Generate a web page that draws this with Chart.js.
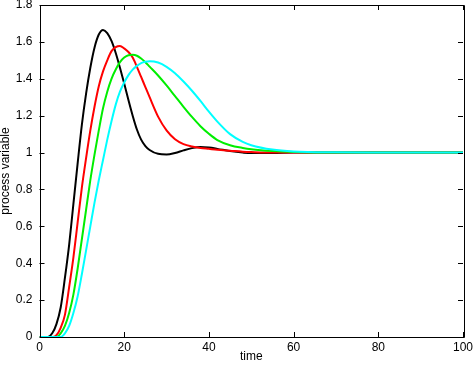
<!DOCTYPE html>
<html>
<head>
<meta charset="utf-8">
<script src="https://cdn.jsdelivr.net/npm/chart.js@4/dist/chart.umd.min.js"></script>
<style>
  html, body { margin: 0; padding: 0; background: #fff; }
  #wrap { width: 474px; height: 370px; position: relative; }
</style>
</head>
<body>
<div id="wrap"><canvas id="chartStep"></canvas></div>
<script>
// ============= DATA =============
const TIME = [0,1,2,3,4,5,6,7,8,9,10,11,12,13,14,15,16,17,18,19,20,21,22,23,24,25,26,
              28,30,32,34,36,38,40,42,45,48,50,55,60,70,80,90,100];

const BLACK = [0,0,0,0.02,0.07,0.16,0.32,0.5,0.72,0.94,1.15,1.32,1.46,1.57,1.64,1.665,1.648,1.605,1.54,1.46,1.375,1.285,1.20,1.125,1.07,1.035,1.014,
               0.993,0.99,0.998,1.012,1.024,1.03,1.027,1.02,1.008,1.0,0.997,0.997,1.0,1,1,1,1];

const RED = [0,0,0,0,0.01,0.05,0.12,0.27,0.43,0.62,0.81,0.97,1.12,1.25,1.36,1.44,1.5,1.55,1.572,1.578,1.565,1.545,1.515,1.465,1.41,1.355,1.30,
             1.195,1.12,1.072,1.046,1.033,1.025,1.02,1.015,1.01,1.005,1.003,1.0,1.0,1,1,1,1];

const GREEN = [0,0,0,0,0,0.02,0.06,0.13,0.23,0.37,0.53,0.69,0.85,0.99,1.12,1.24,1.33,1.40,1.45,1.49,1.515,1.528,1.53,1.525,1.51,1.49,1.466,
               1.418,1.364,1.306,1.248,1.193,1.143,1.102,1.068,1.04,1.025,1.018,1.008,1.003,1.0,1,1,1];

const CYAN = [0,0,0,0,0,0,0.02,0.06,0.13,0.22,0.34,0.47,0.6,0.73,0.85,0.96,1.07,1.17,1.26,1.33,1.38,1.42,1.45,1.47,1.485,1.492,1.495,
              1.488,1.465,1.43,1.385,1.335,1.28,1.222,1.168,1.10,1.058,1.04,1.016,1.006,1.001,1,1,1];

const X_TICKS = [0,20,40,60,80,100];
const Y_TICKS = [0,0.2,0.4,0.6,0.8,1,1.2,1.4,1.6,1.8];

const FONT = 'Liberation Sans, Arial, Helvetica, sans-serif';

function series(vals){
  return TIME.map((t,i) => ({ x: t, y: vals[i] }));
}

// matlab style box with inward ticks on all four sides
const boxPlugin = {
  id: 'matlabBox',
  afterDraw(chart){
    const {ctx, chartArea: a, scales} = chart;
    const len = 5;
    ctx.save();
    ctx.strokeStyle = '#000';
    ctx.lineWidth = 1;
    ctx.beginPath();
    ctx.rect(Math.round(a.left)+0.5, Math.round(a.top)+0.5, Math.round(a.right-a.left), Math.round(a.bottom-a.top));
    X_TICKS.forEach(v => {
      const px = Math.round(scales.x.getPixelForValue(v)) + 0.5;
      ctx.moveTo(px, a.bottom); ctx.lineTo(px, a.bottom - len);
      ctx.moveTo(px, a.top); ctx.lineTo(px, a.top + len);
    });
    Y_TICKS.forEach(v => {
      const py = Math.round(scales.y.getPixelForValue(v)) + 0.5;
      ctx.moveTo(a.left, py); ctx.lineTo(a.left + len, py);
      ctx.moveTo(a.right, py); ctx.lineTo(a.right - len, py);
    });
    ctx.stroke();
    ctx.restore();
  }
};

function mkSet(label, vals, color, order){
  return {
    label,
    data: series(vals),
    borderColor: color,
    backgroundColor: color,
    borderWidth: 2,
    pointRadius: 0,
    cubicInterpolationMode: 'monotone',
    fill: false,
    order
  };
}

new Chart(document.getElementById('chartStep'), {
  type: 'line',
  data: {
    datasets: [
      mkSet('1', BLACK, '#000000', 4),
      mkSet('2', RED, '#ff0000', 3),
      mkSet('3', GREEN, '#00ee00', 2),
      mkSet('4', CYAN, '#00ffff', 1)
    ]
  },
  options: {
    responsive: true,
    maintainAspectRatio: false,
    animation: false,
    layout: { padding: { top: 5, right: 11, bottom: 0, left: 0 } },
    plugins: {
      legend: { display: false },
      tooltip: { enabled: false }
    },
    scales: {
      x: {
        type: 'linear',
        min: 0, max: 100,
        afterBuildTicks: s => { s.ticks = X_TICKS.map(v => ({ value: v })); },
        afterFit: s => { s.height = 33; s.paddingLeft = 0; s.paddingRight = 0; },
        grid: { display: false, drawTicks: false },
        border: { display: false },
        ticks: { color: '#000', padding: 3, maxRotation: 0, font: { family: FONT, size: 12 } },
        title: { display: true, text: 'time', color: '#000', padding: { top: 0, bottom: 6 }, font: { family: FONT, size: 12 } }
      },
      y: {
        type: 'linear',
        min: 0, max: 1.8,
        afterBuildTicks: s => { s.ticks = Y_TICKS.map(v => ({ value: v })); },
        afterFit: s => { s.width = 39.5; s.paddingTop = 0; s.paddingBottom = 0; },
        grid: { display: false, drawTicks: false },
        border: { display: false },
        ticks: { color: '#000', padding: 7, font: { family: FONT, size: 12 }, callback: v => String(v) },
        title: { display: true, text: 'process variable', color: '#000', padding: { top: 0, bottom: 0 }, font: { family: FONT, size: 12, lineHeight: 1 } }
      }
    }
  },
  plugins: [boxPlugin]
});
</script>
</body>
</html>
